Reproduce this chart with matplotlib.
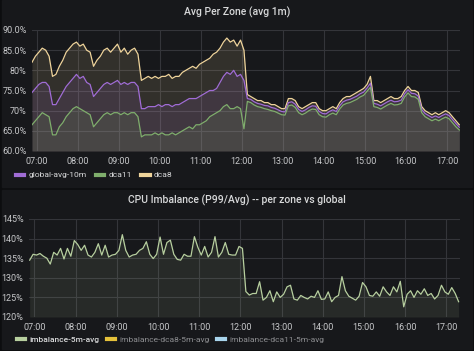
import numpy as np
import pandas as pd
import matplotlib
matplotlib.use('Agg')
import matplotlib.pyplot as plt
import matplotlib.dates as mdates
from matplotlib.lines import Line2D
from matplotlib.patches import Rectangle

plt.rcParams['font.family'] = ['Roboto', 'DejaVu Sans']

# 5 minute samples, 06:53 -> 17:18
times = pd.date_range('2019-01-01 06:53', periods=126, freq='5min')

# --- Avg Per Zone (avg 1m), percent
dca8 = [82, 83.5, 84.5, 85.5, 85, 83.5, 78.5, 79, 81, 82.5,
        84.5, 85.5, 86.5, 87, 86, 86.5, 85, 84.5, 81, 82.5,
        83.5, 85, 85.5, 84.5, 85.5, 86.5, 84.5, 85.5, 84, 85,
        85.5, 84, 77.5, 78, 78.5, 78, 78.5, 78, 78.5, 78.5,
        79, 78, 78.5, 78.5, 79.5, 80, 80.5, 81, 80.5, 81.5,
        82, 82.5, 83, 84, 84.5, 85.5, 87, 88, 87, 87.5,
        86, 87.5, 85, 74, 73.5, 73, 72.5, 72.5, 72, 72,
        71.5, 71.5, 71, 70.5, 70.5, 73, 73, 72.5, 71, 70.5,
        71, 71.5, 72, 72, 70.5, 70, 70, 70.5, 71, 70.5,
        72, 73, 73.5, 73.5, 74, 74.5, 75, 75.5, 76.5, 78.5,
        72.5, 72.5, 72, 72.5, 73, 73.5, 73, 73, 73.5, 75,
        76, 75, 75, 74.5, 71, 70, 69.5, 69, 69.5, 69,
        69.5, 70, 69.5, 68.5, 67.5, 66.5]
global_avg = [74.5, 75.5, 76.5, 77, 77, 76, 71.5, 71.5, 73, 74.5,
              76, 77, 78, 79, 78, 78.5, 77, 76.5, 73.5, 74.5,
              75.5, 76.5, 77, 76.5, 77, 77.5, 76.5, 77, 76.5, 77,
              77, 76, 70.5, 70.5, 71, 71, 71, 71.5, 71, 71.5,
              71.5, 71, 71.5, 71.5, 72, 72.5, 73, 73, 73, 73.5,
              74, 74.5, 75, 75, 75.5, 77, 78.5, 79.5, 79, 80,
              78.5, 79, 77.5, 73, 72.8, 72.2, 71.8, 71.6, 71.3, 71.2,
              70.8, 70.6, 70.2, 69.8, 69.7, 72, 72.2, 71.6, 70.3, 69.8,
              70.2, 70.8, 71.2, 71.1, 69.8, 69.3, 69.2, 69.8, 70.2, 69.8,
              71.2, 72.2, 72.6, 72.8, 73.2, 73.6, 74.2, 74.6, 75.6, 76.8,
              71.8, 71.6, 71.2, 71.7, 72.2, 72.6, 72.2, 72.3, 72.6, 74.2,
              75.2, 74.3, 74.2, 73.6, 70.3, 69.3, 68.8, 68.3, 68.7, 68.3,
              68.8, 69.2, 68.8, 67.8, 66.8, 65.9]
dca11 = [66.5, 67.5, 68.5, 69.5, 69, 68.5, 64, 64, 66, 67,
         68.5, 69.5, 70.5, 71, 70.5, 70, 69.5, 69, 66, 67,
         68, 69, 69.5, 69, 69.5, 69.5, 69, 69.5, 69, 69.5,
         69.5, 68.5, 63.5, 64, 64, 64, 64.5, 64, 64.5, 64,
         64, 64.5, 64, 64.5, 65, 65.5, 66, 65.5, 66.5, 66.5,
         67, 67.5, 68.5, 69, 69.5, 70, 71, 71.5, 70.5, 70.5,
         71, 70.5, 65.5, 72.3, 72, 71.4, 71, 70.8, 70.5, 70.3,
         70, 69.8, 69.4, 69, 68.9, 71.2, 71.4, 70.8, 69.5, 69,
         69.4, 70, 70.4, 70.3, 69, 68.5, 68.4, 69, 69.4, 69,
         70.4, 71.4, 71.8, 72, 72.4, 72.8, 73.4, 73.8, 74.8, 75.8,
         71, 70.8, 70.4, 70.9, 71.4, 71.8, 71.4, 71.5, 71.8, 73.4,
         74.4, 73.5, 73.4, 72.8, 69.5, 68.5, 68, 67.5, 67.9, 67.5,
         68, 68.4, 68, 67, 66, 65.2]

# --- CPU Imbalance (P99/Avg), percent
imbalance = [134.5, 136, 135.8, 136.2, 135.5, 135, 133.5, 136.5, 135.8, 137.5,
             134.8, 137.5, 135.5, 139.5, 138.5, 137, 138.3, 135.8, 135.3, 136.5,
             138.7, 135.8, 138.3, 135.3, 135.8, 136, 137, 141, 137, 135.3,
             135.8, 136, 137, 137.5, 139.2, 136, 134.9, 136, 140.4, 136,
             139, 139.6, 136, 134.7, 134.5, 136, 135.5, 135.5, 140.5, 137.8,
             135.8, 138, 135.3, 136.5, 140.5, 135.3, 136.5, 139, 136, 135.8,
             135.8, 138, 137.5, 126.5, 125.6, 126, 126, 129, 124.3, 125,
             126.7, 123.9, 126.4, 125, 125.8, 127.7, 128.1, 124.6, 124.3, 125.5,
             125, 124.6, 125.3, 125, 126.7, 124.5, 124.6, 126.4, 123.9, 125,
             125.5, 130.3, 126.7, 125.3, 124.8, 124.3, 125.3, 128.8, 127.7, 125.5,
             125.3, 126.4, 125.3, 127.7, 126.4, 125.5, 127.7, 126.4, 129.1, 122.6,
             125.8, 126.7, 125, 126.7, 125.8, 127.2, 125.5, 126, 124.6, 125.5,
             128.1, 126.4, 125.8, 127.5, 126, 123.9]

top_names = ['global-avg-10m', 'dca11', 'dca8']
top_colors = ['#a06cd5', '#7fae6c', '#efd49b']
bottom_names = ['imbalance-5m-avg', 'imbalance-dca8-5m-avg', 'imbalance-dca11-5m-avg']
bottom_colors = ['#b7cf9f', '#e5c13a', '#a8d4ec']

top_ticks = [60, 65, 70, 75, 80, 85, 90]
top_ticklabels = ['60.0%', '65.0%', '70%', '75.0%', '80%', '85.0%', '90.0%']
bottom_ticks = [120, 125, 130, 135, 140, 145]
bottom_ticklabels = ['120%', '125%', '130%', '135%', '140%', '145%']

W, H = 474, 351
page_bg = '#0c0d0f'
panel_bg = '#17181b'
text_c = '#d8d9da'
tick_c = '#c7c8ca'
grid_c = '#34353a'

fig = plt.figure(figsize=(W / 100, H / 100), dpi=100, facecolor=page_bg)

# panel backgrounds
fig.patches.append(Rectangle((2 / W, 1 - 187 / H), 470 / W, 187 / H,
                             transform=fig.transFigure, color=panel_bg, zorder=-10))
fig.patches.append(Rectangle((2 / W, 1 - 349 / H), 470 / W, 159 / H,
                             transform=fig.transFigure, color=panel_bg, zorder=-10))


def style_axes(ax, ticks, ticklabels, ylim):
    ax.set_facecolor('none')
    for s in ax.spines.values():
        s.set_visible(False)
    ax.set_ylim(*ylim)
    ax.set_yticks(ticks)
    ax.set_yticklabels(ticklabels)
    ax.xaxis.set_major_locator(mdates.HourLocator())
    ax.xaxis.set_major_formatter(mdates.DateFormatter('%H:%M'))
    ax.tick_params(length=0, labelsize=6.5, colors=tick_c, pad=4)
    ax.grid(True, color=grid_c, lw=0.8)
    ax.set_axisbelow(True)


# ---- top panel
ax1 = fig.add_axes([32 / W, 1 - 151 / H, 428 / W, 121 / H])
for vals, c in zip([dca8, global_avg, dca11], [top_colors[2], top_colors[0], top_colors[1]]):
    ax1.fill_between(times, vals, 60, color=c, alpha=0.13, lw=0)
for vals, c in zip([dca8, global_avg, dca11], [top_colors[2], top_colors[0], top_colors[1]]):
    ax1.plot(times, vals, color=c, lw=0.9)
style_axes(ax1, top_ticks, top_ticklabels, (60, 90))
ax1.set_xlim(pd.Timestamp('2019-01-01 06:53'), pd.Timestamp('2019-01-01 17:19'))

fig.text(237 / W, 1 - 12 / H, 'Avg Per Zone (avg 1m)', ha='center', va='center',
         fontsize=7.5, color=text_c, fontweight='medium')

handles = [Line2D([], [], color=c, lw=3) for c in top_colors]
ax1.legend(handles, top_names, loc='center left', bbox_to_anchor=(8 / W, 1 - 175 / H),
           bbox_transform=fig.transFigure, ncol=3, frameon=False, fontsize=6.1,
           handlelength=1.0, handletextpad=0.5, columnspacing=1.1, labelcolor=text_c)

# ---- bottom panel
ax2 = fig.add_axes([29 / W, 1 - 317 / H, 431 / W, 98 / H])
ax2.fill_between(times, imbalance, 120, color=bottom_colors[0], alpha=0.1, lw=0)
ax2.plot(times, imbalance, color=bottom_colors[0], lw=0.9)
style_axes(ax2, bottom_ticks, bottom_ticklabels, (120, 145))
ax2.set_xlim(pd.Timestamp('2019-01-01 06:52'), pd.Timestamp('2019-01-01 17:20'))

fig.text(237 / W, 1 - 200 / H, 'CPU Imbalance (P99/Avg) -- per zone vs global',
         ha='center', va='center', fontsize=7.5, color=text_c, fontweight='medium')

handles = [Line2D([], [], color=c, lw=3) for c in bottom_colors]
leg = ax2.legend(handles, bottom_names, loc='center left', bbox_to_anchor=(9 / W, 1 - 340 / H),
                 bbox_transform=fig.transFigure, ncol=3, frameon=False, fontsize=6.0,
                 handlelength=1.0, handletextpad=0.5, columnspacing=0.9)
for i, t in enumerate(leg.get_texts()):
    t.set_color(text_c if i == 0 else '#8e8f92')
    if i == 0:
        t.set_fontweight('medium')

fig.savefig('out.png', dpi=100, facecolor=page_bg)
